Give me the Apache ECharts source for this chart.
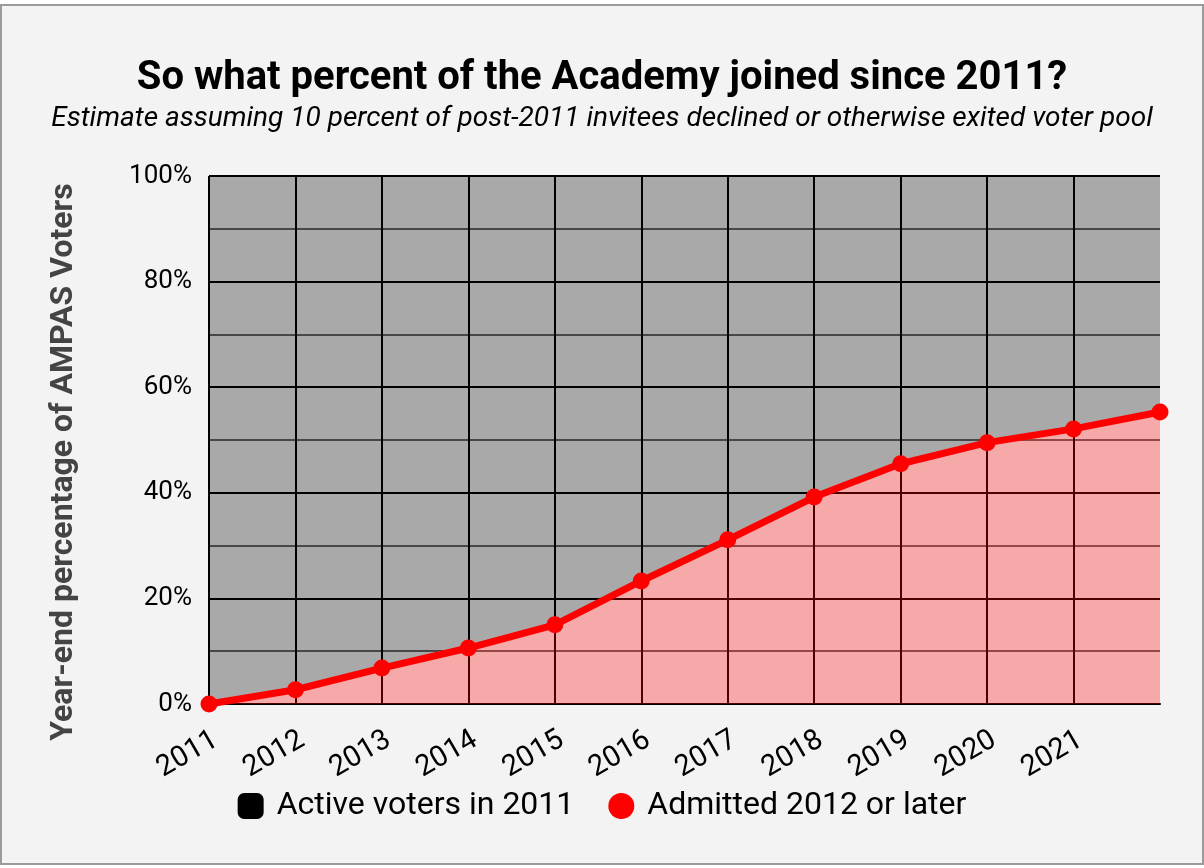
<!DOCTYPE html>
<html>
<head>
<meta charset="utf-8">
<script src="https://cdn.jsdelivr.net/npm/echarts@6/dist/echarts.min.js"></script>
<style>
  html, body { margin: 0; padding: 0; background: #fff; }
  .card {
    position: absolute;
    left: 0; top: 4px;
    width: 1200px; height: 857px;
    border: 2px solid #9b9b9b;
    background: #f3f3f3;
  }
  .chart { width: 1200px; height: 857px; }
</style>
</head>
<body>
<div class="card"><div id="chart" class="chart"></div></div>
<script>
// year-end share of voters, percent
var years = ['2011', '2012', '2013', '2014', '2015', '2016', '2017', '2018', '2019', '2020', '2021', '2022'];
var admitted = [0, 2.7, 6.8, 10.6, 15.0, 23.3, 31.1, 39.2, 45.5, 49.5, 52.1, 55.3];
var active = admitted.map(function (v) { return +(100 - v).toFixed(1); });
var yTicks = [0, 20, 40, 60, 80, 100];

var chart = echarts.init(document.getElementById('chart'));

chart.setOption({
  backgroundColor: '#f3f3f3',
  animation: false,
  textStyle: { fontFamily: 'Roboto' },
  title: {
    text: 'So what percent of the Academy joined since 2011?',
    subtext: 'Estimate assuming 10 percent of post-2011 invitees declined or otherwise exited voter pool',
    left: 'center',
    top: 48,
    itemGap: 6,
    textStyle: { fontFamily: 'Roboto', fontWeight: 'bold', fontSize: 40, color: '#000' },
    subtextStyle: { fontFamily: 'Roboto', fontStyle: 'italic', fontSize: 28, color: '#000' }
  },
  legend: {
    bottom: 36,
    left: 'center',
    itemGap: 34,
    itemWidth: 26,
    itemHeight: 26,
    textStyle: { fontSize: 32, color: '#000', padding: [0, 0, 0, 8] },
    data: [
      { name: 'Active voters in 2011', icon: 'roundRect', itemStyle: { color: '#000', opacity: 1 } },
      { name: 'Admitted 2012 or later', icon: 'circle', itemStyle: { color: '#ff0000', opacity: 1 } }
    ]
  },
  grid: { left: 207, right: 42, top: 170, bottom: 159, containLabel: false },
  xAxis: {
    type: 'category',
    data: years,
    boundaryGap: false,
    axisLine: { show: true, lineStyle: { color: '#000', width: 2 } },
    axisTick: { show: false },
    axisLabel: {
      interval: 0,
      rotate: 30,
      fontSize: 29,
      color: '#000',
      margin: 38,
      padding: [0, -8, 0, 0],
      formatter: function (v, i) { return i < 11 ? v : ''; }
    },
    splitLine: {
      show: true,
      interval: function (i) { return i < 11; },
      lineStyle: { color: '#000', width: 2 }
    }
  },
  yAxis: {
    type: 'value',
    min: yTicks[0],
    max: yTicks[yTicks.length - 1],
    interval: 20,
    name: 'Year-end percentage of AMPAS Voters',
    nameLocation: 'middle',
    nameGap: 129,
    nameTextStyle: { fontSize: 32, fontWeight: 'bold', color: '#444', padding: [0, 44, 0, 0] },
    axisLine: { show: false },
    axisTick: { show: false },
    axisLabel: { fontSize: 26, color: '#000', margin: 17, formatter: '{value}%' },
    splitLine: { show: true, lineStyle: { color: '#000', width: 2 } },
    minorTick: { show: false, splitNumber: 2 },
    minorSplitLine: { show: true, lineStyle: { color: '#666', width: 2 } }
  },
  series: [
    {
      name: 'Admitted 2012 or later',
      type: 'line',
      stack: 'voters',
      data: admitted,
      color: '#ff0000',
      symbol: 'circle',
      symbolSize: 17,
      lineStyle: { width: 7, color: '#ff0000' },
      itemStyle: { color: '#ff0000' },
      areaStyle: { color: '#ff0000', opacity: 0.3 },
      z: 3
    },
    {
      name: 'Active voters in 2011',
      type: 'line',
      stack: 'voters',
      data: active,
      color: '#000',
      showSymbol: false,
      symbol: 'none',
      lineStyle: { width: 0 },
      areaStyle: { color: '#000', opacity: 0.3 },
      z: 2
    }
  ]
});
</script>
</body>
</html>
